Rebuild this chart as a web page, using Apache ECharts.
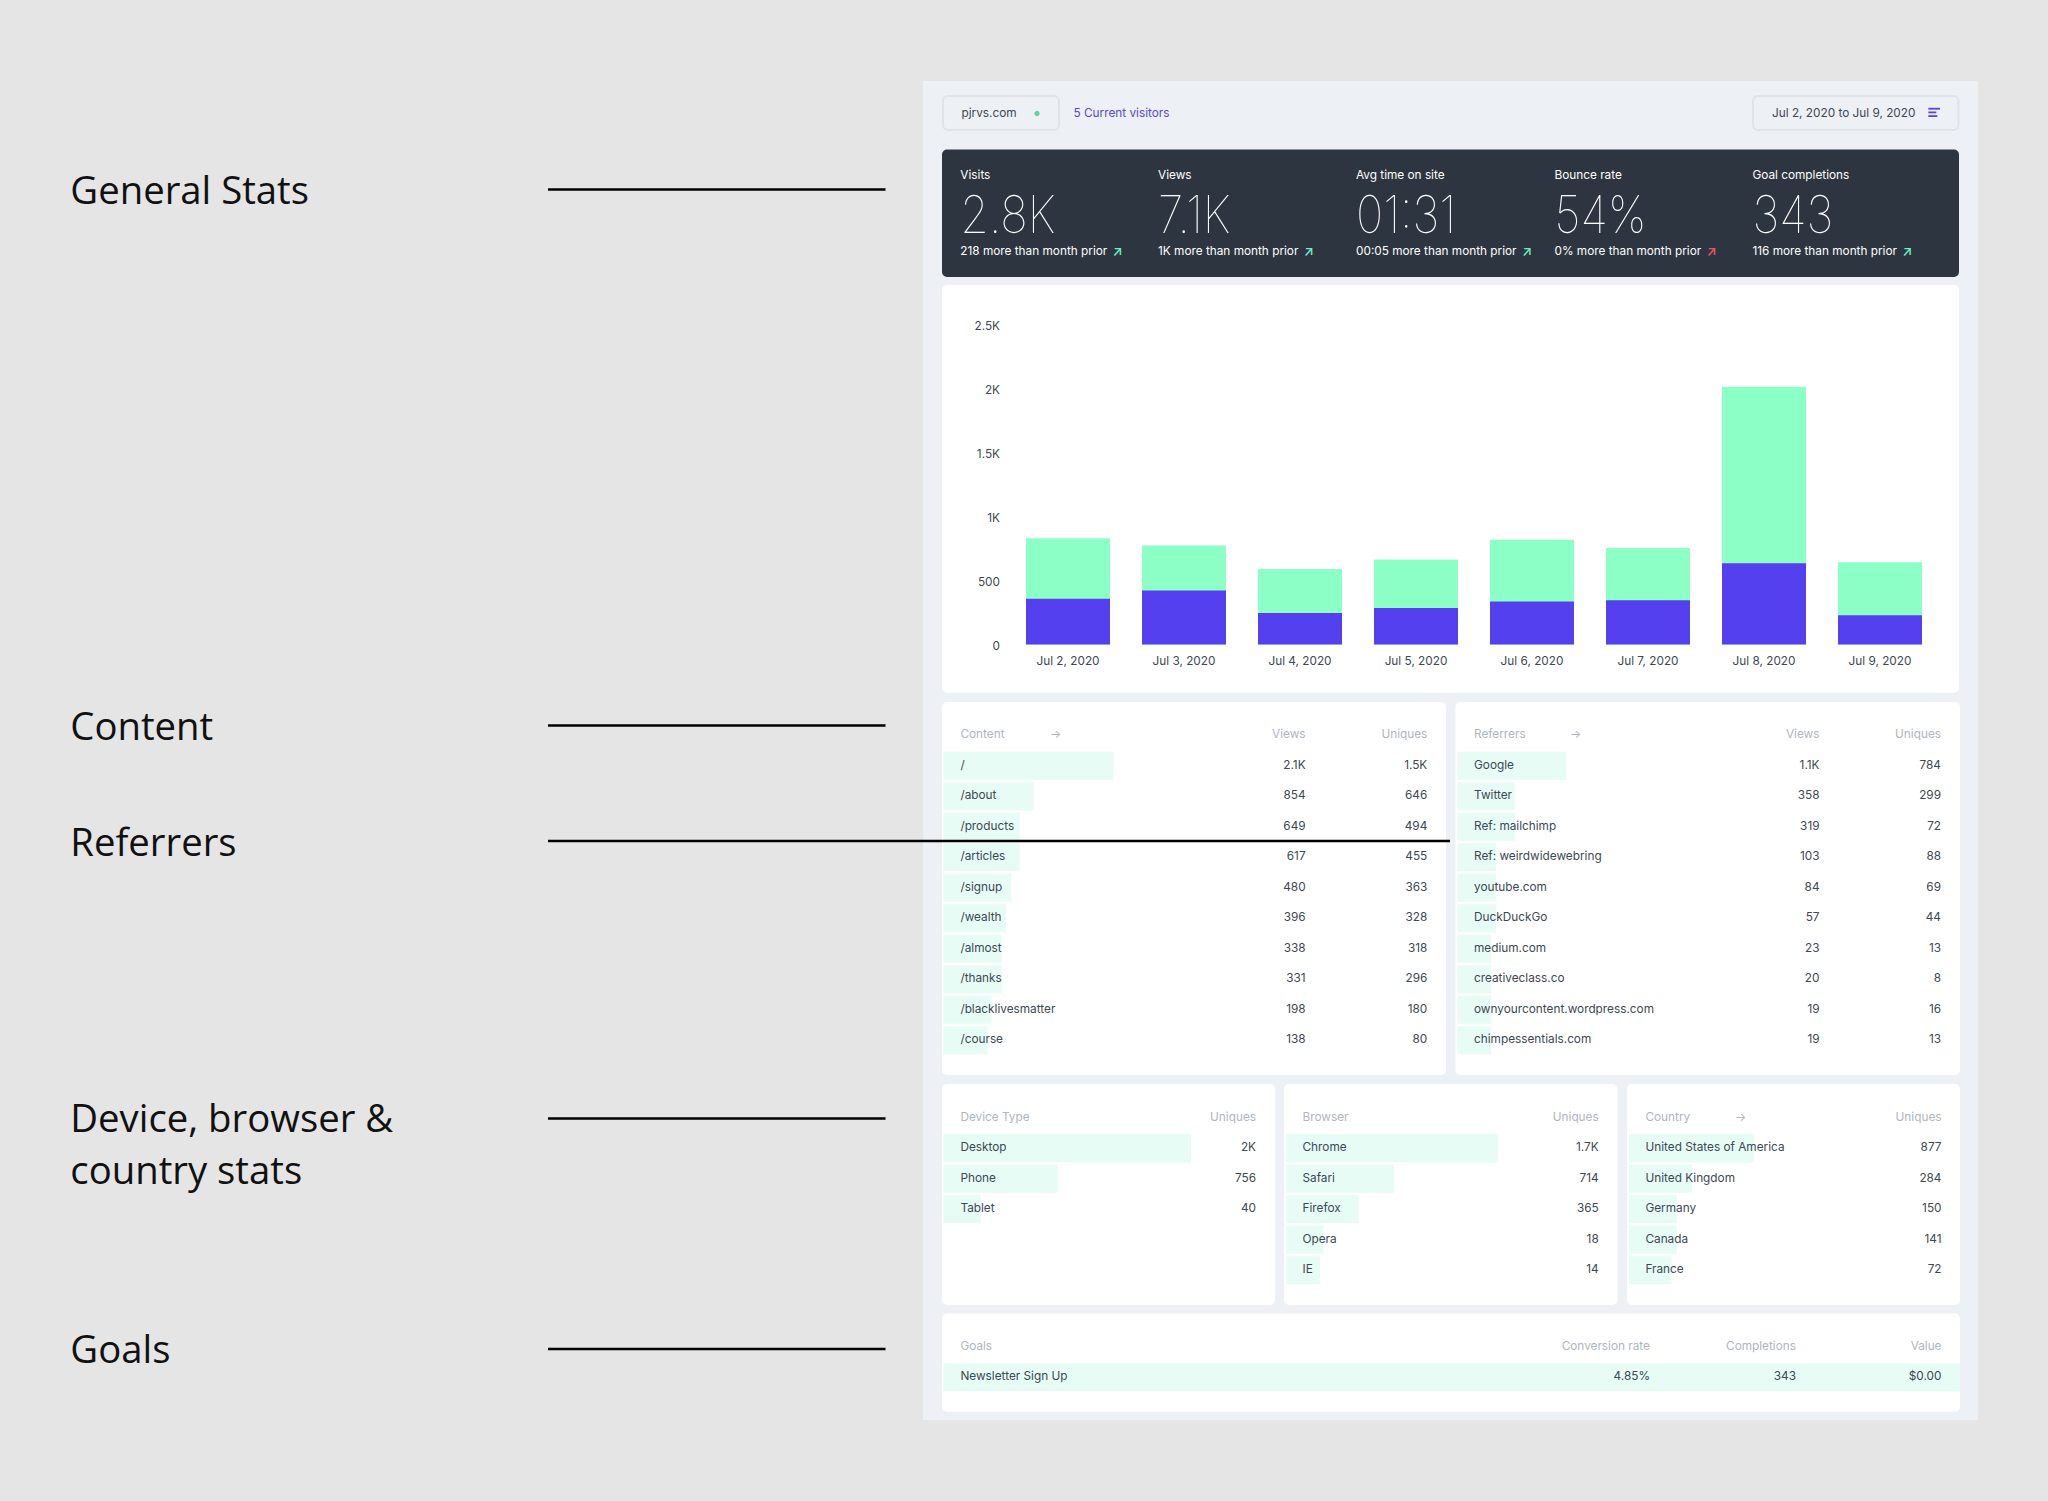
<!DOCTYPE html>
<html><head><meta charset="utf-8">
<style>html,body{margin:0;padding:0;background:#e5e5e5}#c{width:2048px;height:1501px}</style>
<script src="https://cdn.jsdelivr.net/npm/echarts@6/dist/echarts.min.js"></script>
</head><body><div id="c"></div>
<script>
// ---------- data ----------
const dates = ['Jul 2, 2020','Jul 3, 2020','Jul 4, 2020','Jul 5, 2020','Jul 6, 2020','Jul 7, 2020','Jul 8, 2020','Jul 9, 2020'];
const views = [831,773,589,664,818,753,2013,643];
const visits = [357,422,247,286,336,346,635,229];
const yTickLabels = {0:'0',500:'500',1000:'1K',1500:'1.5K',2000:'2K',2500:'2.5K'};

const kpiLabels = ['Visits','Views','Avg time on site','Bounce rate','Goal completions'];
const kpiValues = ['2.8K','7.1K','01:31','54%','343'];
const kpiDeltas = ['218 more than month prior','1K more than month prior','00:05 more than month prior','0% more than month prior','116 more than month prior'];
const kpiGood = [true,true,true,false,true];

const contentNames = ['/','/about','/products','/articles','/signup','/wealth','/almost','/thanks','/blacklivesmatter','/course'];
const contentViews = ['2.1K','854','649','617','480','396','338','331','198','138'];
const contentUniques = ['1.5K','646','494','455','363','328','318','296','180','80'];
const contentShare = [33.9,18.0,15.2,15.2,13.5,12.5,11.6,11.6,9.6,8.8];

const referrerNames = ['Google','Twitter','Ref: mailchimp','Ref: weirdwidewebring','youtube.com','DuckDuckGo','medium.com','creativeclass.co','ownyourcontent.wordpress.com','chimpessentials.com'];
const referrerViews = ['1.1K','358','319','103','84','57','23','20','19','19'];
const referrerUniques = ['784','299','72','88','69','44','13','8','16','13'];
const referrerShare = [21.7,11.4,11.4,7.7,7.7,7.7,6.7,6.7,6.7,6.7];

const deviceNames = ['Desktop','Phone','Tablet'];
const deviceUniques = ['2K','756','40'];
const deviceShare = [75,34.6,11.3];

const browserNames = ['Chrome','Safari','Firefox','Opera','IE'];
const browserUniques = ['1.7K','714','365','18','14'];
const browserShare = [64.1,32.6,21.9,11.1,10.2];

const countryNames = ['United States of America','United Kingdom','Germany','Canada','France'];
const countryUniques = ['877','284','150','141','72'];
const countryShare = [37.9,19.1,14.5,14.5,12.9];

const goalNames = ['Newsletter Sign Up'];
const goalRates = ['4.85%'];
const goalCompletions = ['343'];
const goalValues = ['$0.00'];
const goalShare = [100];

const sideLabels = ['General Stats','Content','Referrers','Device, browser &\ncountry stats','Goals'];

// ---------- style ----------
const UI = 'Inter, "Noto Sans", sans-serif';
const INK = '#3d4852', MUTED = '#aeb6c0', ROW = '#e6fcf5', PURPLE = '#5440ef', MINT = '#8cffc6';
const FS = 11.8;
// nudges an axis label vertically: top-anchored text with padding, centred on the tick plus `shift` px
const nudged = shift => ({verticalAlign:'top',lineHeight:16,padding:[shift-8,0,0,0]});

const back = [], front = [];
const card = (x,y,w,h,fill,extra) => back.push({type:'rect',z:-10,silent:true,shape:{x,y,width:w,height:h,r:5},style:Object.assign({fill},extra||{})});
const text = (x,y,t,o,e) => front.push(Object.assign({type:'text',z:100,silent:true,x,y,style:Object.assign({text:t,fontFamily:UI,fontSize:FS,fill:INK,verticalAlign:'middle'},o||{})},e||{}));

// page panels
back.push({type:'rect',z:-20,silent:true,shape:{x:0,y:0,width:2048,height:1501},style:{fill:'#e5e5e5'}});
back.push({type:'rect',z:-15,silent:true,shape:{x:923,y:81,width:1055,height:1339},style:{fill:'#edf0f5'}});

// top bar
const btn = {stroke:'#e0e4ea',lineWidth:2};
card(943,96,116,34,'#edf0f5',btn);
card(1753,96,205.5,34,'#edf0f5',btn);
text(961.5,113,'pjrvs.com');
front.push({type:'circle',z:100,silent:true,shape:{cx:1037,cy:113.5,r:2.6},style:{fill:'#4fd9a3'}});
text(1073.5,113,'5 Current visitors',{fill:'#5b45e0'});
text(1772,113,'Jul 2, 2020 to Jul 9, 2020');
[[1928.3,11.7,108.7],[1928.3,8,112.4],[1928.3,9,116.1]].forEach(l=>front.push({type:'rect',z:100,silent:true,shape:{x:l[0],y:l[2]-0.9,width:l[1],height:1.8},style:{fill:'#5b45e0'}}));

// KPI card
card(942,149.5,1017,127.5,'#2d3640');
const kpiX = [960.3,1158,1356,1554.5,1752.4];
kpiLabels.forEach((l,i)=>{
  text(kpiX[i],175,l,{fill:'#ffffff'});
  text(kpiX[i],214,kpiValues[i],{fill:'#ffffff',fontWeight:100,fontSize:52},{scaleX:0.885});
  front.push({type:'text',z:100,silent:true,x:kpiX[i],y:251,style:{
    text:'{t|'+kpiDeltas[i]+'} {a|↗}',verticalAlign:'middle',
    rich:{t:{fontFamily:UI,fontSize:FS,fill:'#ffffff'},a:{fontFamily:UI,fontSize:13,fontWeight:600,padding:[0,0,0,2],fill:kpiGood[i]?'#6ff0c4':'#f0525f'}}}});
});

// white cards
card(942,285,1017,407.7,'#ffffff');
card(942,702,504,373,'#ffffff');
card(1455.5,702,504.5,373,'#ffffff');
card(942,1084,333,221,'#ffffff');
card(1284,1084,333.5,221,'#ffffff');
card(1627,1084,333,221,'#ffffff');
card(942,1313.5,1018,98.2,'#ffffff');

// side labels + leader lines
const sideY = [188.5,725,840.5,1117,1347.5];
const lineY = [189.5,725.5,841,1118.5,1349];
const lineEnd = [885.5,885.5,1450,885.5,885.5];
sideLabels.forEach((t,i)=>{
  t.split('\n').forEach((p,j)=>text(70.3,sideY[i]+j*52.2,p,{fontFamily:'"Open Sans", sans-serif',fontSize:38.3,fill:'#111111'}));
  front.push({type:'line',z:100,silent:true,shape:{x1:548,y1:lineY[i],x2:lineEnd[i],y2:lineY[i]},style:{stroke:'#000000',lineWidth:2.4}});
});

// ---------- series & axes ----------
const grids = [], xAxes = [], yAxes = [], series = [];

// main chart
grids.push({left:1010,width:928,top:324.5,height:320,outerBoundsMode:'none',containLabel:false});
xAxes.push({type:'category',gridIndex:0,data:dates,axisLine:{show:false},axisTick:{show:false},
  axisLabel:{interval:0,margin:10.5,color:INK,fontFamily:UI,fontSize:FS}});
yAxes.push({type:'value',gridIndex:0,min:0,max:2500,interval:500,splitLine:{show:false},axisLine:{show:false},axisTick:{show:false},
  axisLabel:Object.assign({margin:10,color:INK,fontFamily:UI,fontSize:FS,formatter:v=>yTickLabels[v]},nudged(1))});
series.push({type:'bar',name:'Views',xAxisIndex:0,yAxisIndex:0,data:views,barWidth:84,barGap:'-100%',itemStyle:{color:MINT},silent:true,animation:false});
series.push({type:'bar',name:'Visits',xAxisIndex:0,yAxisIndex:0,data:visits,barWidth:84,barGap:'-100%',itemStyle:{color:PURPLE},silent:true,animation:false});

// tables: one grid per table, rows from category axes
function table(t){
  const g = grids.length, pitch = t.pitch || 30.5;
  grids.push({left:t.x,width:t.w,top:t.top,height:pitch*t.names.length,outerBoundsMode:'none',containLabel:false});
  xAxes.push({type:'value',gridIndex:g,min:0,max:100,show:false});
  const base = {type:'category',gridIndex:g,inverse:true,z:5,axisLine:{show:false},axisTick:{show:false},splitLine:{show:false}};
  const yi = yAxes.length;
  yAxes.push(Object.assign({},base,{data:t.names,position:'left',
    axisLabel:Object.assign({interval:0,inside:true,margin:t.nameX-t.x,align:'left',color:INK,fontFamily:UI,fontSize:FS},nudged(-0.9))}));
  t.cols.forEach(c=>{
    yAxes.push(Object.assign({},base,{data:c.vals,position:'right',offset:c.right-(t.x+t.w),
      axisLabel:Object.assign({interval:0,margin:0,align:'right',color:INK,fontFamily:UI,fontSize:FS},nudged(-0.9))}));
    text(c.right,t.headY,c.head,{fill:MUTED,align:'right'});
  });
  series.push({type:'bar',xAxisIndex:g,yAxisIndex:yi,data:t.share,barWidth:28,itemStyle:{color:ROW},silent:true,animation:false});
  text(t.nameX,t.headY,t.head,{fill:MUTED});
  if(t.arrowX) text(t.arrowX,t.headY,'→',{fill:MUTED});
}
table({x:943.5,w:501,top:750.5,headY:734.4,nameX:960.4,head:'Content',arrowX:1050,names:contentNames,share:contentShare,
  cols:[{head:'Views',vals:contentViews,right:1305.6},{head:'Uniques',vals:contentUniques,right:1427.3}]});
table({x:1457.4,w:501,top:750.5,headY:734.4,nameX:1474,head:'Referrers',arrowX:1570,names:referrerNames,share:referrerShare,
  cols:[{head:'Views',vals:referrerViews,right:1819.5},{head:'Uniques',vals:referrerUniques,right:1941}]});
table({x:943.5,w:330,top:1133,headY:1116.8,nameX:960.4,head:'Device Type',names:deviceNames,share:deviceShare,
  cols:[{head:'Uniques',vals:deviceUniques,right:1256}]});
table({x:1286.3,w:330,top:1133,headY:1116.8,nameX:1302.5,head:'Browser',names:browserNames,share:browserShare,
  cols:[{head:'Uniques',vals:browserUniques,right:1598.7}]});
table({x:1629,w:330,top:1133,headY:1116.8,nameX:1645.4,head:'Country',arrowX:1735,names:countryNames,share:countryShare,
  cols:[{head:'Uniques',vals:countryUniques,right:1941.5}]});
table({x:943.5,w:1016.5,top:1362,headY:1346.3,nameX:960.4,head:'Goals',names:goalNames,share:goalShare,
  cols:[{head:'Conversion rate',vals:goalRates,right:1650},{head:'Completions',vals:goalCompletions,right:1796},{head:'Value',vals:goalValues,right:1941.5}]});

const chart = echarts.init(document.getElementById('c'),null,{renderer:'svg',width:2048,height:1501});
chart.setOption({
  animation:false,
  backgroundColor:'#e5e5e5',
  grid:grids,xAxis:xAxes,yAxis:yAxes,series,
  graphic:{elements:back.concat(front)}
});
</script></body></html>
